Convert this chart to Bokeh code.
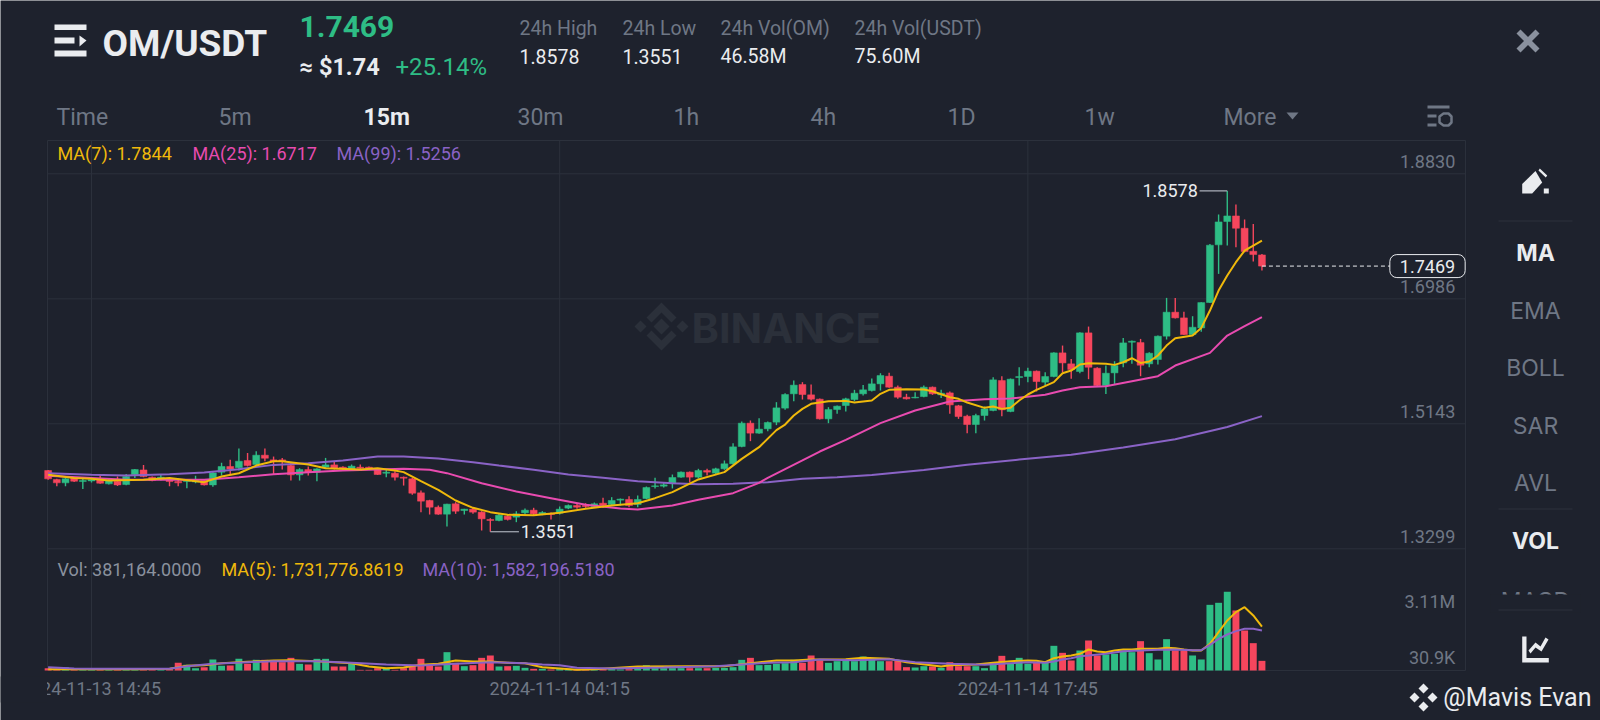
from bokeh.core.properties import value
from bokeh.embed import file_html
from bokeh.models import Label, PolyAnnotation, Range1d
from bokeh.plotting import figure
from bokeh.resources import INLINE

# candles run from index -5 to 135, 15 minutes apart, index 0 is 2024-11-13 14:45
candle_idx = list(range(-5, 136))

opens = [1.4454, 1.4321, 1.4272, 1.4345, 1.4291,
         1.4301, 1.4316, 1.4257, 1.4296, 1.4247, 1.4395, 1.4463, 1.4355, 1.4345, 1.4316,
         1.4291, 1.4291, 1.4286, 1.4306, 1.4242, 1.4429, 1.4513, 1.4493, 1.4601, 1.4542,
         1.4680, 1.4611, 1.4611, 1.4527, 1.4390, 1.4468, 1.4429, 1.4503, 1.4537, 1.4503,
         1.4478, 1.4503, 1.4503, 1.4468, 1.4414, 1.4414, 1.4355, 1.4331, 1.4125, 1.4012,
         1.3913, 1.3810, 1.3963, 1.3864, 1.3884, 1.3840, 1.3732, 1.3717, 1.3781, 1.3766,
         1.3830, 1.3869, 1.3810, 1.3815, 1.3825, 1.3899, 1.3938, 1.3938, 1.3923, 1.3972,
         1.3953, 1.4017, 1.4027, 1.3953, 1.4041, 1.4218, 1.4223, 1.4267, 1.4356, 1.4430,
         1.4356, 1.4454, 1.4415, 1.4479, 1.4553, 1.4808, 1.5152, 1.5005, 1.5069, 1.5167,
         1.5374, 1.5585, 1.5722, 1.5570, 1.5506, 1.5216, 1.5353, 1.5412, 1.5501, 1.5585,
         1.5634, 1.5732, 1.5845, 1.5683, 1.5535, 1.5525, 1.5545, 1.5683, 1.5570, 1.5599,
         1.5408, 1.5255, 1.5132, 1.5265, 1.5339, 1.5781, 1.5324, 1.5825, 1.5840, 1.5919,
         1.5757, 1.5840, 1.6189, 1.6027, 1.5914, 1.6484, 1.5963, 1.5707, 1.5894, 1.6041,
         1.6346, 1.6341, 1.6027, 1.6091, 1.6435, 1.6789, 1.6705, 1.6459, 1.6557, 1.6931,
         1.7782, 1.8126, 1.8209, 1.8027, 1.7688, 1.7634]
closes = [1.4331, 1.4272, 1.4331, 1.4296, 1.4306,
          1.4316, 1.4267, 1.4306, 1.4242, 1.4365, 1.4468, 1.4365, 1.4306, 1.4355, 1.4291,
          1.4272, 1.4306, 1.4306, 1.4242, 1.4419, 1.4513, 1.4478, 1.4591, 1.4527, 1.4680,
          1.4635, 1.4591, 1.4591, 1.4390, 1.4468, 1.4429, 1.4478, 1.4537, 1.4488, 1.4478,
          1.4518, 1.4488, 1.4488, 1.4395, 1.4429, 1.4355, 1.4341, 1.4119, 1.4002, 1.3913,
          1.3810, 1.3958, 1.3854, 1.3884, 1.3840, 1.3741, 1.3717, 1.3795, 1.3732, 1.3815,
          1.3869, 1.3815, 1.3835, 1.3805, 1.3884, 1.3938, 1.3913, 1.3923, 1.3963, 1.3938,
          1.4012, 1.4032, 1.3938, 1.4027, 1.4203, 1.4228, 1.4243, 1.4351, 1.4430, 1.4356,
          1.4454, 1.4430, 1.4479, 1.4553, 1.4803, 1.5152, 1.5005, 1.5064, 1.5162, 1.5378,
          1.5575, 1.5713, 1.5575, 1.5506, 1.5216, 1.5353, 1.5403, 1.5511, 1.5594, 1.5644,
          1.5732, 1.5855, 1.5683, 1.5535, 1.5511, 1.5535, 1.5683, 1.5585, 1.5594, 1.5422,
          1.5250, 1.5132, 1.5265, 1.5363, 1.5791, 1.5349, 1.5801, 1.5840, 1.5919, 1.5766,
          1.5840, 1.6189, 1.6041, 1.5943, 1.6484, 1.5977, 1.5707, 1.5889, 1.6002, 1.6336,
          1.6361, 1.6007, 1.6184, 1.6435, 1.6789, 1.6705, 1.6459, 1.6567, 1.6931, 1.7777,
          1.8121, 1.8209, 1.8027, 1.7683, 1.7639, 1.7469]
highs = [1.4463, 1.4331, 1.4355, 1.4355, 1.4331,
         1.4355, 1.4404, 1.4345, 1.4365, 1.4404, 1.4478, 1.4537, 1.4365, 1.4404, 1.4355,
         1.4331, 1.4316, 1.4375, 1.4316, 1.4429, 1.4567, 1.4611, 1.4778, 1.4714, 1.4739,
         1.4778, 1.4660, 1.4640, 1.4567, 1.4488, 1.4513, 1.4488, 1.4640, 1.4591, 1.4518,
         1.4542, 1.4542, 1.4513, 1.4478, 1.4463, 1.4444, 1.4365, 1.4345, 1.4159, 1.4022,
         1.3938, 1.3963, 1.3987, 1.3889, 1.3913, 1.3854, 1.3751, 1.3815, 1.3805, 1.3854,
         1.3894, 1.3904, 1.3854, 1.3835, 1.3923, 1.3953, 1.3963, 1.3972, 1.3982, 1.4051,
         1.4061, 1.4041, 1.4076, 1.4086, 1.4218, 1.4346, 1.4282, 1.4395, 1.4439, 1.4439,
         1.4479, 1.4479, 1.4494, 1.4602, 1.4857, 1.5177, 1.5192, 1.5226, 1.5177, 1.5462,
         1.5595, 1.5782, 1.5757, 1.5722, 1.5516, 1.5388, 1.5412, 1.5526, 1.5644, 1.5717,
         1.5811, 1.5889, 1.5894, 1.5707, 1.5585, 1.5609, 1.5707, 1.5693, 1.5644, 1.5619,
         1.5422, 1.5275, 1.5290, 1.5398, 1.5830, 1.5845, 1.5811, 1.5978, 1.5968, 1.5929,
         1.5904, 1.6199, 1.6297, 1.6100, 1.6494, 1.6577, 1.5977, 1.6002, 1.6066, 1.6410,
         1.6371, 1.6395, 1.6199, 1.6445, 1.7000, 1.7000, 1.6794, 1.6730, 1.6936, 1.7796,
         1.8229, 1.8578, 1.8377, 1.8155, 1.8091, 1.7649]
lows = [1.4316, 1.4223, 1.4223, 1.4286, 1.4183,
        1.4277, 1.4257, 1.4247, 1.4227, 1.4237, 1.4345, 1.4355, 1.4296, 1.4306, 1.4223,
        1.4223, 1.4193, 1.4267, 1.4232, 1.4213, 1.4380, 1.4395, 1.4454, 1.4513, 1.4522,
        1.4591, 1.4395, 1.4468, 1.4306, 1.4306, 1.4380, 1.4296, 1.4478, 1.4468, 1.4454,
        1.4463, 1.4454, 1.4463, 1.4390, 1.4355, 1.4306, 1.4232, 1.4095, 1.3840, 1.3805,
        1.3800, 1.3628, 1.3815, 1.3805, 1.3815, 1.3569, 1.3551, 1.3707, 1.3717, 1.3692,
        1.3805, 1.3791, 1.3795, 1.3732, 1.3805, 1.3884, 1.3889, 1.3904, 1.3904, 1.3904,
        1.3933, 1.3938, 1.3913, 1.3913, 1.4032, 1.4189, 1.4203, 1.4189, 1.4346, 1.4277,
        1.4336, 1.4380, 1.4395, 1.4464, 1.4543, 1.4798, 1.4887, 1.4995, 1.5034, 1.5123,
        1.5349, 1.5477, 1.5501, 1.5486, 1.5206, 1.5152, 1.5290, 1.5324, 1.5476, 1.5560,
        1.5619, 1.5634, 1.5673, 1.5511, 1.5501, 1.5521, 1.5535, 1.5570, 1.5525, 1.5290,
        1.5216, 1.5004, 1.5004, 1.5191, 1.5329, 1.5255, 1.5314, 1.5707, 1.5757, 1.5619,
        1.5707, 1.5830, 1.5904, 1.5806, 1.5889, 1.5801, 1.5697, 1.5584, 1.5732, 1.5977,
        1.6027, 1.5845, 1.5977, 1.6017, 1.6386, 1.6695, 1.6454, 1.6449, 1.6499, 1.6926,
        1.7354, 1.7772, 1.7747, 1.7674, 1.7536, 1.7403]

# traded volume per candle, thousands of OM
volumes_k = [92, 53, 132, 53, 53,
             40, 40, 40, 40, 66, 53, 66, 53, 40, 53,
             303, 224, 92, 132, 435, 184, 198, 461, 263, 421,
             421, 395, 329, 500, 263, 237, 461, 461, 158, 158,
             263, 26, 26, 92, 92, 26, 92, 224, 461, 198,
             158, 724, 303, 171, 211, 500, 593, 158, 171, 184,
             105, 66, 66, 40, 53, 26, 40, 53, 53, 53,
             53, 40, 53, 66, 211, 92, 92, 92, 92, 92,
             92, 92, 105, 105, 132, 421, 500, 211, 224, 263,
             290, 421, 303, 593, 395, 303, 369, 395, 369, 553,
             487, 369, 369, 395, 132, 119, 171, 158, 105, 329,
             171, 171, 171, 92, 303, 579, 263, 500, 263, 303,
             303, 975, 698, 395, 790, 1185, 593, 632, 659, 790,
             724, 1159, 685, 435, 1238, 790, 790, 593, 435, 2594,
             2674, 3110, 2371, 1580, 1080, 381]

ma7_idx = [-5, -2, 0, 2, 6, 9, 13, 15, 17, 19, 21, 22, 25, 27, 31, 33, 35, 36, 38, 40, 42, 44, 46, 48,
           51, 54, 57, 60, 63, 65, 67, 70, 73, 75, 77, 79, 80, 81, 82, 83, 84, 85, 87, 88, 90, 91, 92,
           94, 96, 97, 99, 100, 101, 103, 104, 105, 106, 107, 108, 109, 111, 112, 113, 114, 115, 117,
           118, 119, 120, 121, 122, 123, 124, 125, 127, 128, 129, 130, 131, 132, 133, 134, 135]
ma7 = [1.4390, 1.4345, 1.4331, 1.4306, 1.4316, 1.4345, 1.4282, 1.4365, 1.4414, 1.4527, 1.4591, 1.4591,
       1.4542, 1.4488, 1.4468, 1.4488, 1.4454, 1.4430, 1.4297, 1.4169, 1.4012, 1.3904, 1.3840, 1.3800,
       1.3795, 1.3830, 1.3889, 1.3938, 1.3972, 1.4046, 1.4135, 1.4322, 1.4430, 1.4626, 1.4798, 1.5050,
       1.5132, 1.5265, 1.5363, 1.5437, 1.5457, 1.5476, 1.5481, 1.5457, 1.5486, 1.5585, 1.5644,
       1.5653, 1.5648, 1.5624, 1.5535, 1.5511, 1.5457, 1.5378, 1.5398, 1.5363, 1.5378, 1.5486, 1.5575,
       1.5644, 1.5757, 1.5889, 1.5928, 1.6017, 1.6036, 1.6027,
       1.6012, 1.6051, 1.6110, 1.6041, 1.6061, 1.6150, 1.6297, 1.6405, 1.6445, 1.6557, 1.6813, 1.7108,
       1.7329, 1.7526, 1.7698, 1.7772, 1.7844]

ma25_idx = [-5, 0, 4, 9, 13, 17, 21, 25, 29, 33, 36, 39, 41, 45, 49, 53, 57, 61, 63, 67, 70, 74, 77, 78,
            82, 84, 87, 91, 95, 99, 103, 106, 110, 112, 114, 117, 120, 123, 125, 129, 131, 133, 135]
ma25 = [1.4375, 1.4345, 1.4316, 1.4316, 1.4316, 1.4355, 1.4400, 1.4429, 1.4454, 1.4468, 1.4479, 1.4464,
        1.4415, 1.4267, 1.4145, 1.4046, 1.3948, 1.3894, 1.3879, 1.3938, 1.4022, 1.4120, 1.4272, 1.4346,
        1.4602, 1.4734, 1.4906, 1.5152, 1.5339, 1.5471, 1.5506, 1.5516, 1.5570, 1.5633, 1.5683, 1.5697,
        1.5771, 1.5845, 1.6002, 1.6189, 1.6445, 1.6582, 1.6717]

ma99_idx = [-5, 0, 4, 9, 13, 17, 21, 25, 29, 33, 36, 40, 44, 47, 51, 55, 59, 63, 67, 70, 74, 78, 82, 86,
            90, 96, 101, 107, 113, 119, 125, 131, 135]
ma99 = [1.4414, 1.4390, 1.4380, 1.4400, 1.4424, 1.4473, 1.4537, 1.4562, 1.4601, 1.4660, 1.4661, 1.4631,
        1.4577, 1.4528, 1.4464, 1.4395, 1.4346, 1.4297, 1.4267, 1.4253, 1.4258, 1.4282, 1.4331, 1.4355,
        1.4387, 1.4460, 1.4538, 1.4615, 1.4688, 1.4795, 1.4914, 1.5095, 1.5256]

vol_ma5_idx = [-5, 0, 5, 9, 11, 13, 15, 18, 21, 23, 26, 28, 30, 32, 34, 36, 38, 40, 42, 44, 46, 48, 50,
               52, 54, 56, 58, 63, 69, 73, 76, 79, 81, 83, 87, 89, 92, 94, 98, 99, 102, 104, 106, 108,
               109, 110, 111, 112, 113, 114, 115, 116, 117, 118, 119, 120, 121, 122, 123, 124, 125,
               126, 127, 128, 129, 130, 131, 132, 133, 134, 135]
vol_ma5 = [53, 53, 53, 66, 184, 211, 290, 342, 395, 408, 369, 329, 290, 158, 92, 119, 224, 263, 395, 356,
           356, 303, 290, 132, 79, 26, 53, 158, 171, 171, 290, 395, 395, 435, 448, 500, 461, 329, 158, 211,
           237, 303, 369, 395, 382, 329, 487, 553, 593, 659, 830, 751, 724, 790, 830, 830, 856, 856, 856,
           896, 882, 830, 790, 790, 1054, 1515, 1976, 2305, 2502, 2173, 1732]

vol_ma10_idx = [-5, -2, 0, 5, 9, 11, 14, 18, 21, 26, 30, 34, 38, 42, 46, 50, 52, 54, 56, 60, 66, 72, 75,
                78, 81, 84, 88, 92, 95, 99, 103, 106, 108, 110, 111, 112, 113, 114, 115, 117, 119, 121,
                123, 125, 127, 128, 129, 130, 131, 132, 133, 134, 135]
vol_ma10 = [132, 79, 66, 66, 66, 171, 263, 329, 369, 369, 303, 237, 198, 263, 329, 290, 237, 211, 105, 79,
            119, 171, 237, 303, 329, 435, 408, 448, 329, 263, 224, 290, 329, 303, 356, 435, 487, 566, 593,
            659, 764, 790, 817, 830, 803, 803, 1014, 1251, 1422, 1554, 1646, 1646, 1582]

price_ticks = [1.8830, 1.6986, 1.5143, 1.3299]
price_labels = ["1.8830", "1.6986", "1.5143", "1.3299"]
vol_tick_top = [3110]
vol_tick_bottom = [30.9]
time_ticks = [1.1, 54, 108]
grid_ticks = [0, 54, 108]
time_labels = ["24-11-13 14:45", "2024-11-14 04:15", "2024-11-14 17:45"]
day_high = 1.8578
day_low = 1.3551
last_price = 1.7469

BG = "#1e222d"
GRID = "#2c313c"
UP = "#2ebd85"
DOWN = "#f6465d"
YELLOW = "#f0b90b"
PINK = "#e84bb0"
PURPLE = "#8a63c6"
GREY = "#6f7785"
LIGHT = "#eaecef"
MARK = "#2b303a"
FONT = value("Roboto")

# the plot frame fills the whole page, the chart pane is this part of it
PANE_X0, PANE_X1 = -5.075, 158.48
PANE_Y0, PANE_Y1 = 1.1504, 1.9321

p = figure(width=1600, height=720, output_backend="svg", toolbar_location=None,
           x_range=Range1d(-10.496, 174.049), y_range=Range1d(1.0767, 2.1386),
           x_axis_location=None, y_axis_location=None,
           min_border_left=0, min_border_right=0, min_border_top=0, min_border_bottom=0,
           background_fill_color=BG, border_fill_color=BG, outline_line_color=None)
p.extra_y_ranges = {"vol": Range1d(-1975, 26465)}
p.grid.visible = False

# grid and pane edges
p.segment(grid_ticks, [PANE_Y0] * 3, grid_ticks, [PANE_Y1] * 3, line_color=GRID, line_width=1, level="underlay")
p.segment([PANE_X0] * 4, price_ticks, [PANE_X1] * 4, price_ticks, line_color=GRID, line_width=1, level="underlay")
p.segment([PANE_X0, PANE_X1, PANE_X0, PANE_X0], [PANE_Y0, PANE_Y0, PANE_Y0, PANE_Y1],
          [PANE_X0, PANE_X1, PANE_X1, PANE_X1], [PANE_Y1, PANE_Y1, PANE_Y0, PANE_Y1],
          line_color=GRID, line_width=1, level="underlay")

# time labels
p.text(x=time_ticks, y=[PANE_Y0] * 3, text=time_labels, text_align="center", text_baseline="top",
       y_offset=7, text_color=GREY, text_font=FONT, text_font_size="18px")


def ui(text, x, y, size, color=GREY, align="left", bold=False, font="Roboto"):
    p.add_layout(Label(x=x, y=720 - y, x_units="screen", y_units="screen", text=text, level="overlay",
                       text_font=font, text_font_size=f"{size}px", text_color=color,
                       text_align=align, text_baseline="middle",
                       text_font_style="bold" if bold else "normal"))


def shape(points, color, line=None, width=1):
    p.add_layout(PolyAnnotation(xs=[a for a, _ in points], ys=[720 - b for _, b in points],
                                xs_units="screen", ys_units="screen", level="overlay",
                                fill_color=color if line is None else None,
                                fill_alpha=1, line_color=line, line_width=width, line_alpha=1))


def rect(x0, x1, y0, y1, color):
    shape([(x0, y0), (x1, y0), (x1, y1), (x0, y1)], color)


def diamond(cx, cy, r, color):
    shape([(cx, cy - r), (cx + r, cy), (cx, cy + r), (cx - r, cy)], color)


# the first time label runs off the left of the pane
rect(0, 46.5, 676, 702, BG)

# volume pane
bar_colors = [UP if c >= o else DOWN for o, c in zip(opens, closes)]
p.vbar(x=candle_idx, top=volumes_k, bottom=0, width=0.8, fill_color=bar_colors, line_color=None,
       y_range_name="vol")
p.line(vol_ma5_idx, vol_ma5, y_range_name="vol", line_color=YELLOW, line_width=2)
p.line(vol_ma10_idx, vol_ma10, y_range_name="vol", line_color=PURPLE, line_width=2)

# candles
p.segment(candle_idx, lows, candle_idx, highs, color=bar_colors, line_width=1.4)
tops = [max(o, c) for o, c in zip(opens, closes)]
bots = [min(o, c) for o, c in zip(opens, closes)]
p.vbar(x=candle_idx, top=tops, bottom=bots, width=0.8, color=bar_colors, line_width=0.5)

# moving averages
p.line(ma99_idx, ma99, line_color=PURPLE, line_width=2)
p.line(ma25_idx, ma25, line_color=PINK, line_width=2)
p.line(ma7_idx, ma7, line_color=YELLOW, line_width=2)

# value labels, they sit inside the pane
p.text(x=[157.3] * 4, y=price_ticks, text=price_labels, text_align="right", text_baseline="bottom",
       y_offset=-6, text_color=GREY, text_font=FONT, text_font_size="18px")
p.text(x=[157.3], y=vol_tick_top, text=["3.11M"], y_range_name="vol", text_align="right",
       text_baseline="top", y_offset=-1, text_color=GREY, text_font=FONT, text_font_size="18px")
p.text(x=[157.3], y=vol_tick_bottom, text=["30.9K"], y_range_name="vol", text_align="right",
       text_baseline="bottom", y_offset=-2, text_color=GREY, text_font=FONT, text_font_size="18px")

# high and low markers
p.segment([131], [day_high], [127.8], [day_high], line_color="#a9aeb8", line_width=1.2)
p.text(x=[127.6], y=[day_high], text=["1.8578"], text_align="right", text_baseline="middle",
       text_color=LIGHT, text_font=FONT, text_font_size="18px")
p.segment([46], [day_low], [49.3], [day_low], line_color="#a9aeb8", line_width=1.2)
p.text(x=[49.5], y=[day_low], text=["1.3551"], text_align="left", text_baseline="middle",
       text_color=LIGHT, text_font=FONT, text_font_size="18px")

# last price
p.segment([135], [last_price], [150.3], [last_price], line_color=LIGHT, line_width=1, line_dash="4 3")
p.add_layout(Label(x=1427, y=last_price, x_units="screen", text="1.7469", text_color=LIGHT,
                   text_font="Roboto", text_font_size="18px", text_align="center", text_baseline="middle",
                   background_fill_color=BG, background_fill_alpha=1, border_line_color=LIGHT,
                   border_line_width=1, border_radius=7, padding=(10, 5)))

# watermark
diamond(661, 326, 8, MARK)
diamond(640, 326, 6, MARK)
diamond(682, 326, 6, MARK)
shape([(661, 302), (676, 317), (671, 322), (661, 312), (651, 322), (646, 317)], MARK)
shape([(661, 350), (676, 335), (671, 330), (661, 340), (651, 330), (646, 335)], MARK)
ui("BINANCE", 691, 327, 41.5, MARK, bold=True, font="Inter")

# legends
ui("MA(7): 1.7844", 57, 153, 18, YELLOW)
ui("MA(25): 1.6717", 192, 153, 18, PINK)
ui("MA(99): 1.5256", 336, 153, 18, PURPLE)
ui("Vol: 381,164.0000", 57, 569, 18, "#8a919e")
ui("MA(5): 1,731,776.8619", 221, 569, 18, YELLOW)
ui("MA(10): 1,582,196.5180", 422, 569, 18, PURPLE)

# header
rect(54, 86, 24, 29.5, LIGHT)
rect(54, 74, 37, 43, LIGHT)
shape([(79, 35), (86, 40), (79, 46)], LIGHT)
rect(54, 86, 50, 56, LIGHT)
ui("OM/USDT", 102, 43, 37, LIGHT, bold=True)
ui("1.7469", 299, 26, 30, UP, bold=True)
ui("≈ $1.74", 299, 66, 23.5, LIGHT, bold=True)
ui("+25.14%", 395, 66, 24, UP)
for text, x in [("24h High", 519), ("24h Low", 622), ("24h Vol(OM)", 720), ("24h Vol(USDT)", 854)]:
    ui(text, x, 28, 19.5, GREY)
for text, x in [("1.8578", 519), ("1.3551", 622), ("46.58M", 720), ("75.60M", 854)]:
    ui(text, x, 56, 19.5, LIGHT)
shape([(1516, 33), (1520, 29), (1539, 48), (1535, 52)], "#8a919e")
shape([(1535, 29), (1539, 33), (1520, 52), (1516, 48)], "#8a919e")

# interval tabs
for text, x in [("Time", 56), ("5m", 218), ("30m", 517), ("1h", 673), ("4h", 810), ("1D", 947),
                ("1w", 1084), ("More", 1223)]:
    ui(text, x, 117, 23, GREY)
ui("15m", 363, 117, 23, LIGHT, bold=True)
shape([(1286, 112), (1298, 112), (1292, 119)], GREY)
rect(1427, 1449, 105, 108, GREY)
rect(1427, 1436, 114, 117, GREY)
rect(1427, 1436, 123, 126, GREY)
shape([(1439, 116), (1443, 113), (1448, 113), (1451, 116), (1451, 122), (1448, 125), (1443, 125), (1439, 122)],
      GREY, line=GREY, width=2.5)

# side bar
shape([(1521.7, 193), (1521.7, 183.6), (1535, 170.4), (1541.7, 182), (1531.7, 193)], LIGHT)
shape([(1539.3, 168), (1546.7, 175), (1545.3, 177), (1538, 170)], LIGHT)
rect(1543.3, 1548.3, 188, 193, LIGHT)
rect(1498, 1572, 220, 221, GRID)
rect(1498, 1572, 508, 509, GRID)
ui("MA", 1535, 252, 23, LIGHT, align="center", bold=True, font="Inter")
for text, y in [("EMA", 310), ("BOLL", 367), ("SAR", 425), ("AVL", 482)]:
    ui(text, 1535, y, 23, GREY, align="center", font="Inter")
ui("VOL", 1535, 540, 23, LIGHT, align="center", bold=True, font="Inter")
ui("MACD", 1535, 600, 23, GREY, align="center", font="Inter")
rect(1490, 1580, 594, 612, BG)
rect(1498, 1572, 609, 610, GRID)
shape([(1521.7, 636), (1526, 636), (1526, 657.5), (1548.3, 657.5), (1548.3, 662), (1521.7, 662)], LIGHT)
shape([(1528, 650), (1535, 642), (1540, 646), (1545, 637), (1548, 639), (1541, 651), (1535, 647), (1530, 653)], LIGHT)

# watermark of the poster
diamond(1423, 688, 5, LIGHT)
diamond(1414, 697, 5, LIGHT)
diamond(1432, 697, 5, LIGHT)
diamond(1423, 706, 5, LIGHT)
ui("@Mavis Evan", 1591, 697, 25, LIGHT, align="right")

open("out.html", "w").write(file_html(p, INLINE))
